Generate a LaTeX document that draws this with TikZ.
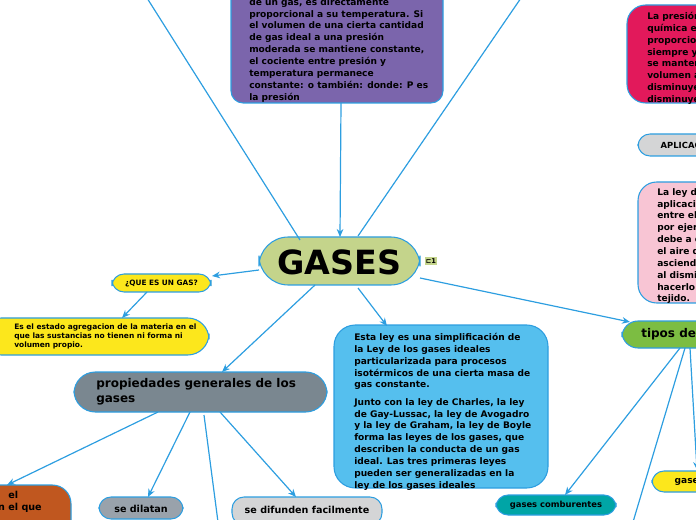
\documentclass[tikz,border=0pt]{standalone}
\usepackage{fontspec}
\setmainfont{DejaVu Sans}
\usetikzlibrary{arrows.meta}
\definecolor{lnk}{HTML}{2D9EE0}
\definecolor{cgas}{HTML}{C4D48B}
\definecolor{cpur}{HTML}{7B65AC}
\definecolor{cyel}{HTML}{FCE71C}
\definecolor{cgry}{HTML}{7A8790}
\definecolor{cora}{HTML}{C0571F}
\definecolor{cgr2}{HTML}{99A2AB}
\definecolor{cgr3}{HTML}{D4D5D6}
\definecolor{cblu}{HTML}{55BFEE}
\definecolor{ctea}{HTML}{00A5A6}
\definecolor{cgrn}{HTML}{7CBD42}
\definecolor{cred}{HTML}{E2195B}
\definecolor{cpnk}{HTML}{F8C5D4}
\tikzset{
 bx/.style={draw=lnk,line width=0.8pt,rounded corners=9pt,inner sep=0pt},
 con/.style={draw=lnk,line width=0.9pt,-{Stealth[length=6pt,width=5pt]}},
 pl/.style={draw=lnk,line width=0.9pt},
 tx/.style={font=\bfseries\fontsize{6.8}{8.9}\selectfont,align=left,anchor=north west,inner sep=0pt}
}
\begin{document}
\begin{tikzpicture}[x=0.75pt,y=-0.75pt]
\useasboundingbox (0,0) rectangle (696,520);
\clip (0,0) rectangle (696,520);
% boxes
\path[bx,fill=cpur] (231,-30) rectangle (443,103);
\node[tx,text=black] (pur) at (249,-2) {de un gas, es directamente\\proporcional a su temperatura. Si\\el volumen de una cierta cantidad\\de gas ideal a una presión\\moderada se mantiene constante,\\el cociente entre presión y\\temperatura permanece\\constante: o también: donde: P es\\la presión};
\path[bx,rounded corners=22pt,fill=cgas] (259,237) rectangle (420,285);
\node[font=\bfseries\fontsize{25}{25}\selectfont] (g) at (339.5,262) {GASES};
\node[fill=cgas,font=\fontsize{5}{5}\selectfont,inner sep=1pt] at (431,261) {\textbf{⊏1}};
\path[bx,fill=cyel] (112,274) rectangle (211,292);
\node[font=\bfseries\fontsize{5.5}{6}\selectfont] (q) at (161.5,283) {¿QUE ES UN GAS?};
\path[bx,rounded corners=16pt,fill=cyel] (-20,318) rectangle (209,355);
\node[tx,font=\bfseries\fontsize{5.6}{6.6}\selectfont] (e) at (14,324) {Es el estado agregacion de la materia en el\\que las sustancias no tienen ni forma ni\\volumen propio.};
\path[bx,rounded corners=16pt,fill=cgry] (74,372) rectangle (327,412);
\node[tx,font=\bfseries\fontsize{9}{11}\selectfont] (p) at (96,378) {propiedades generales de los\\gases};
\path[bx,rounded corners=14pt,fill=cora] (-30,485) rectangle (71,540);
\node[tx,font=\bfseries\fontsize{7.2}{9}\selectfont,anchor=north east,align=right] (o) at (42,491) {el\phantom{ que}\\en el que};
\path[bx,fill=cgr2] (99,497) rectangle (183,519);
\node[font=\bfseries\fontsize{7.2}{8}\selectfont] (d) at (141,508.5) {se dilatan};
\path[bx,fill=cgr3] (232,497) rectangle (382,525);
\node[font=\bfseries\fontsize{7.2}{8}\selectfont] (f) at (307,510) {se difunden facilmente};
\path[bx,rounded corners=16pt,fill=cblu] (334,325) rectangle (548,488);
\node[tx] (b) at (354,333) {Esta ley es una simplificación de\\la Ley de los gases ideales\\particularizada para procesos\\isotérmicos de una cierta masa de\\gas constante.\\[4pt]Junto con la ley de Charles, la ley\\de Gay-Lussac, la ley de Avogadro\\y la ley de Graham, la ley de Boyle\\forma las leyes de los gases, que\\describen la conducta de un gas\\ideal. Las tres primeras leyes\\pueden ser generalizadas en la\\ley de los gases ideales};
\path[bx,fill=ctea] (496,495) rectangle (616,515);
\node[font=\bfseries\fontsize{6.3}{7}\selectfont] (c) at (556,505) {gases comburentes};
\path[bx,rounded corners=12pt,fill=cgrn] (622,321) rectangle (740,348);
\node[tx,font=\bfseries\fontsize{9}{11}\selectfont] (t) at (641,328) {tipos de gases};
\path[bx,fill=cyel] (652,471) rectangle (740,492);
\node[font=\bfseries\fontsize{6.8}{8}\selectfont,anchor=west] (gy) at (670,481.5) {gases};
\path[bx,rounded corners=14pt,fill=cred] (627,5) rectangle (760,103);
\node[tx] (r) at (647,12) {La presión\\química e\\proporcio\\siempre y\\se manten\\volumen a\\disminuye\\disminuye};
\path[bx,fill=cgr3] (638,134) rectangle (760,156);
\node[font=\bfseries\fontsize{6.3}{7}\selectfont,anchor=west] (a) at (656,145) {APLICACIONES};
\path[bx,rounded corners=14pt,fill=cpnk] (638,182) rectangle (760,303);
\node[tx] (l) at (657,188) {La ley d\\aplicaci\\entre el\\por ejer\\debe a e\\el aire d\\asciend\\al dismi\\hacerlo\\tejido.};
% connectors
\coordinate (u1) at (147,-2); \coordinate (u2) at (521,-2);
\draw[pl] (300,240) -- (u1);
\draw[pl] (358,236) -- (u2);
\draw[con] (341,103) -- (340,237);
\draw[con] (259,270) -- (212,276);
\draw[con] (147,292) -- (122,318);
\draw[con] (315,285) -- (222,372);
\draw[con] (358,288) -- (387,326);
\draw[con] (420,278) -- (630,322);
\draw[con] (158,412) -- (7,485);
\draw[con] (190,412) -- (148,497);
\coordinate (u3) at (218,522);
\draw[pl] (204,415) -- (u3);
\draw[con] (220,412) -- (296,497);
\draw[con] (680,348) -- (565,495);
\coordinate (u4) at (633,522);
\draw[pl] (685,348) -- (u4);
\draw[con] (690,348) -- (697,470);
\end{tikzpicture}
\end{document}
